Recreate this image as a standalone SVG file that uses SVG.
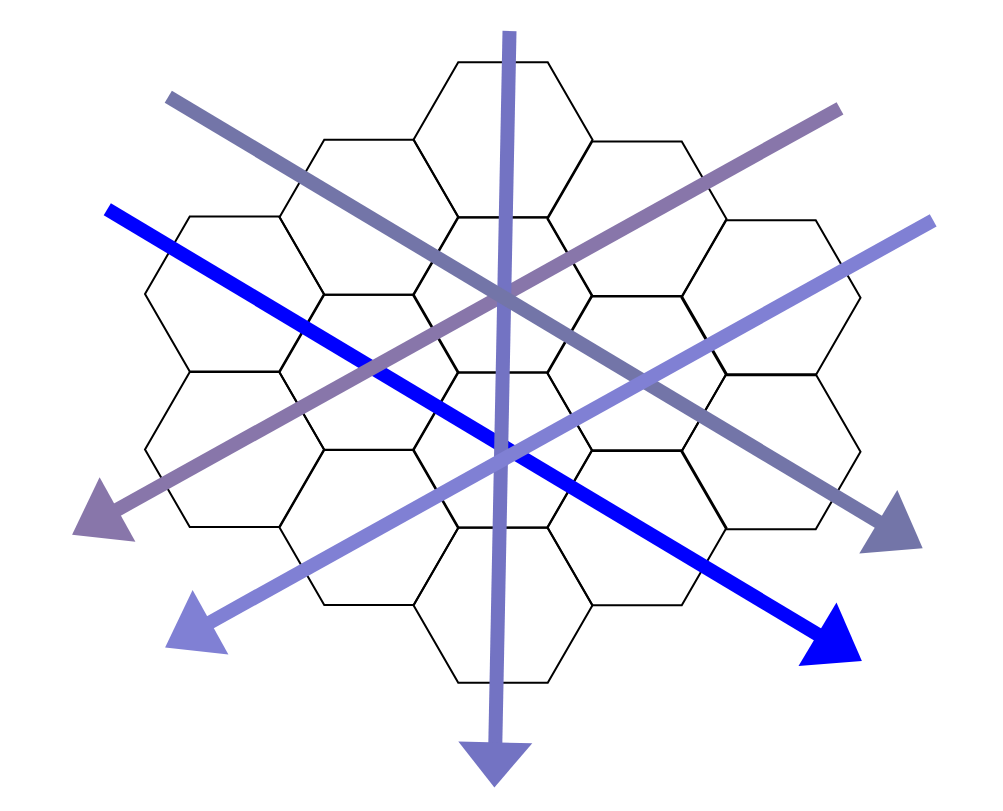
<svg xmlns="http://www.w3.org/2000/svg" xmlns:xlink="http://www.w3.org/1999/xlink" width="1003" height="811" viewBox="0 0 1003 811">
<style>
.hex{fill:none;stroke:#000;stroke-width:2;stroke-linejoin:miter}
.ln{fill:none;stroke-width:14;stroke-linecap:butt}
</style>
<defs>
<polygon id="h" class="hex" points="-89.5,0 -44.75,-77.5 44.75,-77.5 89.5,0 44.75,77.5 -44.75,77.5"/>
</defs>
<rect width="1003" height="811" fill="#fff"/>
<g id="hexes">
<g id="hex-c1"><use xlink:href="#h" transform="translate(503,139.7)"/></g>
<g id="hex-c2"><use xlink:href="#h" transform="translate(502.5,295)"/></g>
<g id="hex-c3"><use xlink:href="#h" transform="translate(502.5,450)"/></g>
<g id="hex-c4"><use xlink:href="#h" transform="translate(503,605.2)"/></g>
<g id="hex-l1a"><use xlink:href="#h" transform="translate(369,217.3)"/></g>
<g id="hex-l1b"><use xlink:href="#h" transform="translate(369,372.3)"/></g>
<g id="hex-l1c"><use xlink:href="#h" transform="translate(369,527.5)"/></g>
<g id="hex-r1a"><use xlink:href="#h" transform="translate(637,219)"/></g>
<g id="hex-r1b"><use xlink:href="#h" transform="translate(637,373.5)"/></g>
<g id="hex-r1c"><use xlink:href="#h" transform="translate(637,527.8)"/></g>
<g id="hex-l2a"><use xlink:href="#h" transform="translate(234.5,294)"/></g>
<g id="hex-l2b"><use xlink:href="#h" transform="translate(234.5,449.5)"/></g>
<g id="hex-r2a"><use xlink:href="#h" transform="translate(771,297.7)"/></g>
<g id="hex-r2b"><use xlink:href="#h" transform="translate(771,451.7)"/></g>
</g>
<g id="connectors">
<g id="arrow-blue">
<line class="ln" stroke="#0000ff" x1="107.3" y1="209.2" x2="819" y2="635.2"/>
<polygon fill="#0000ff" points="798.5,666 836.5,602.6 861.9,660.9"/>
</g>
<g id="arrow-purple">
<line class="ln" stroke="#8876aa" x1="840" y1="108.3" x2="116" y2="510.3"/>
<polygon fill="#8876aa" points="99.6,477.2 135.4,541.8 72.1,534.7"/>
</g>
<g id="arrow-vertical">
<line class="ln" stroke="#7373c3" x1="509.5" y1="31" x2="495.3" y2="744"/>
<polygon fill="#7373c3" points="458.3,741.6 532.3,743.2 494.4,787.4"/>
</g>
<g id="arrow-gray">
<line class="ln" stroke="#7375a8" x1="168.3" y1="96.7" x2="880" y2="522.7"/>
<polygon fill="#7375a8" points="859.3,553.4 897.3,490 922.7,548.3"/>
</g>
<g id="arrow-lightblue">
<line class="ln" stroke="#8080d4" x1="933.2" y1="220.3" x2="209" y2="623"/>
<polygon fill="#8080d4" points="192.6,589.9 228.4,654.5 165.1,647.4"/>
</g>
</g>
</svg>
